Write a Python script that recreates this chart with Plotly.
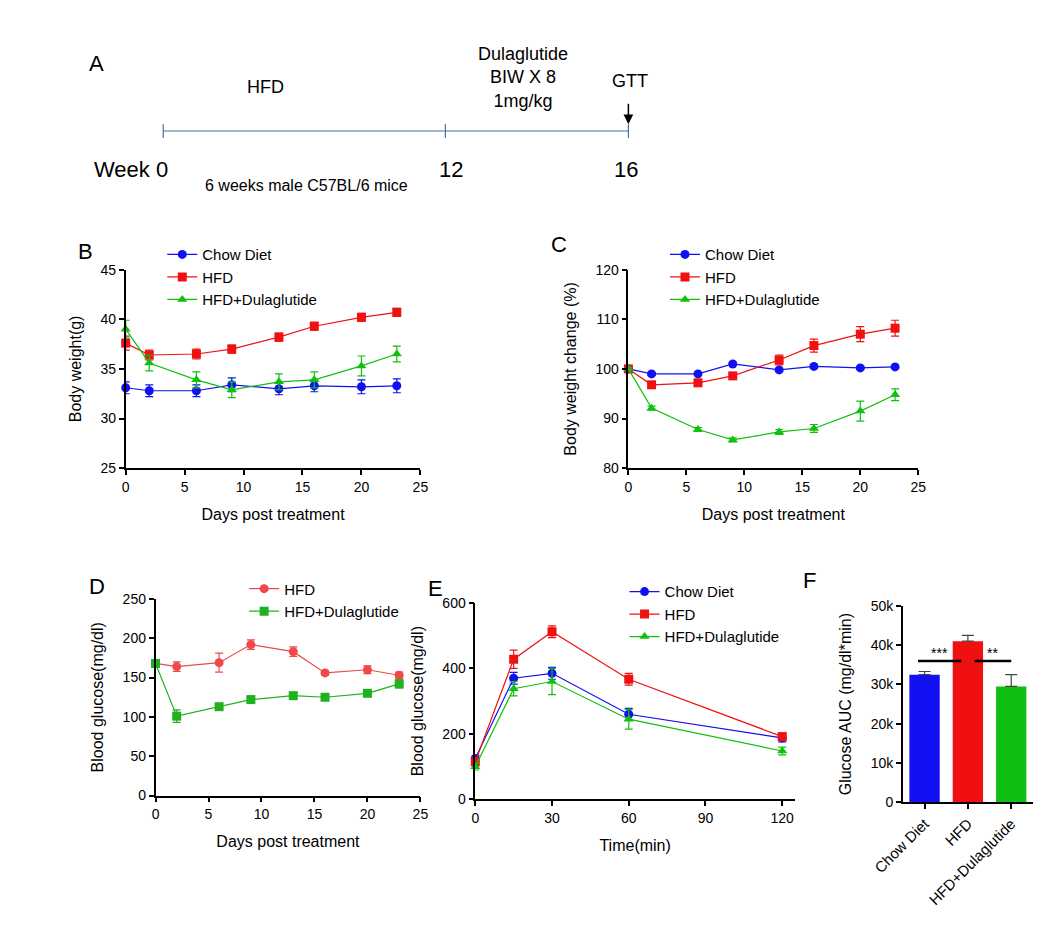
import plotly.graph_objects as go

W, H = 1056, 944
FONT = "Liberation Sans, Arial"

days = [0, 2, 6, 9, 13, 16, 20, 23]
# panel B body weight (g)
b_chow = [33.1, 32.8, 32.8, 33.4, 33.0, 33.3, 33.2, 33.3]
b_chow_err = [0.6, 0.6, 0.6, 0.7, 0.6, 0.6, 0.7, 0.7]
b_hfd = [37.6, 36.4, 36.5, 37.0, 38.2, 39.3, 40.2, 40.7]
b_hfd_err = [0.7, 0.5, 0.5, 0.4, 0.4, 0.4, 0.4, 0.4]
b_dula = [39.0, 35.6, 33.9, 32.9, 33.7, 33.9, 35.3, 36.5]
b_dula_err = [0.9, 0.8, 0.8, 0.8, 0.8, 0.8, 1.0, 0.8]
# panel C body weight change (%)
c_chow = [100, 99.0, 99.0, 101.0, 99.8, 100.5, 100.2, 100.4]
c_chow_err = [0.3, 0.3, 0.3, 0.3, 0.3, 0.3, 0.3, 0.3]
c_hfd = [100, 96.8, 97.2, 98.6, 101.8, 104.7, 107.0, 108.2]
c_hfd_err = [0.3, 0.4, 0.4, 0.6, 1.0, 1.3, 1.5, 1.6]
c_dula = [100, 92.1, 87.8, 85.7, 87.3, 88.0, 91.5, 94.8]
c_dula_err = [0.3, 0.4, 0.4, 0.4, 0.5, 0.8, 2.0, 1.2]
# panel D blood glucose (mg/dl)
d_hfd = [168, 164, 169, 192, 183, 156, 160, 153]
d_hfd_err = [4, 6, 12, 6, 6, 3, 5, 4]
d_dula = [168, 101, 113, 122, 127, 125, 130, 142]
d_dula_err = [4, 8, 4, 4, 4, 4, 4, 5]
# panel E GTT
times = [0, 15, 30, 60, 120]
e_chow = [125, 370, 385, 260, 188]
e_chow_err = [10, 18, 18, 18, 12]
e_hfd = [115, 428, 512, 367, 192]
e_hfd_err = [10, 28, 18, 18, 8]
e_dula = [100, 338, 360, 245, 148]
e_dula_err = [10, 22, 40, 30, 12]
# panel F AUC
groups = ["Chow Diet", "HFD", "HFD+Dulaglutide"]
auc = [32500, 41000, 29500]
auc_err = [800, 1500, 3000]

BLUE, RED, GREEN = "#1010f0", "#f01010", "#10c010"

def px_x(x):
    return x / W

def px_y(y):
    return 1 - y / H

fig = go.Figure()

def series(x, y, err, name, color, symbol, ax, legend, show=True):
    fig.add_trace(go.Scatter(
        x=x, y=y, name=name, mode="lines+markers",
        line=dict(color=color, width=1.2),
        marker=dict(color=color, symbol=symbol, size=9),
        error_y=dict(type="data", array=err, color=color, thickness=1.2, width=4),
        xaxis="x" + ax, yaxis="y" + ax, legend=legend, showlegend=show,
        cliponaxis=False))

series(days, b_chow, b_chow_err, "Chow Diet", BLUE, "circle", "", "legend")
series(days, b_hfd, b_hfd_err, "HFD", RED, "square", "", "legend")
series(days, b_dula, b_dula_err, "HFD+Dulaglutide", GREEN, "triangle-up", "", "legend")
series(days, c_chow, c_chow_err, "Chow Diet", BLUE, "circle", "2", "legend2")
series(days, c_hfd, c_hfd_err, "HFD", RED, "square", "2", "legend2")
series(days, c_dula, c_dula_err, "HFD+Dulaglutide", GREEN, "triangle-up", "2", "legend2")
series(days, d_hfd, d_hfd_err, "HFD", "#f04848", "circle", "3", "legend3")
series(days, d_dula, d_dula_err, "HFD+Dulaglutide", "#20b020", "square", "3", "legend3")
series(times, e_chow, e_chow_err, "Chow Diet", BLUE, "circle", "4", "legend4")
series(times, e_hfd, e_hfd_err, "HFD", RED, "square", "4", "legend4")
series(times, e_dula, e_dula_err, "HFD+Dulaglutide", GREEN, "triangle-up", "4", "legend4")

fig.add_trace(go.Bar(
    x=groups, y=auc, marker=dict(color=[BLUE, RED, "#10c010"], line=dict(width=0)),
    width=0.7, error_y=dict(type="data", array=auc_err, symmetric=False,
                            arrayminus=[0, 0, 0], color="#444", width=6, thickness=1.2),
    xaxis="x5", yaxis="y5", showlegend=False))

def axis_style(**kw):
    d = dict(showline=True, linecolor="black", linewidth=1.5, ticks="outside",
             ticklen=5, tickwidth=1.5, tickcolor="black", showgrid=False,
             zeroline=False, tickfont=dict(size=14, color="black"),
             title_font=dict(size=16, color="black"))
    d.update(kw)
    return d

panels = {
    "": (90, 396, 258, 460),
    "2": (612, 913, 258, 460),
    "3": (121, 396, 593, 793),
    "4": (453, 785, 597, 797),
    "5": (897, 1032, 600, 800),
}
layout = {}
specs = {
    "": (dict(range=[0, 25], dtick=5, title_text="Days post treatment"),
         dict(range=[25, 45], dtick=5, title_text="Body weight(g)")),
    "2": (dict(range=[0, 25], dtick=5, title_text="Days post treatment"),
          dict(range=[80, 120], dtick=10, title_text="Body weight change (%)")),
    "3": (dict(range=[0, 25], dtick=5, title_text="Days post treatment"),
          dict(range=[0, 250], dtick=50, title_text="Blood glucose(mg/dl)")),
    "4": (dict(range=[0, 125], tickvals=[0, 30, 60, 90, 120], title_text="Time(min)"),
          dict(range=[0, 600], dtick=200, title_text="Blood glucose(mg/dl)")),
    "5": (dict(tickangle=-45, tickfont=dict(size=15, color="black")),
          dict(range=[0, 50000], dtick=10000, title_text="Glucose AUC (mg/dl*min)")),
}
for k, (x0, x1, y0, y1) in panels.items():
    xs, ys = specs[k]
    layout["xaxis" + k] = axis_style(domain=[px_x(x0), px_x(x1)], anchor="y" + k, **xs)
    layout["yaxis" + k] = axis_style(domain=[px_y(y1), px_y(y0)], anchor="x" + k, **ys)

def leg(x, y):
    return dict(x=px_x(x), y=px_y(y), xanchor="left", yanchor="top",
                bgcolor="rgba(0,0,0,0)", font=dict(size=15, color="black"),
                tracegroupgap=4, itemwidth=30)

layout["legend"] = leg(128, 226)
layout["legend2"] = leg(650, 226)
layout["legend3"] = leg(213, 566)
layout["legend4"] = leg(608, 569)

fig.update_layout(**layout)

# significance bars in F
for xa, xb, yv, txt in [(-0.15, 0.85, 36000, "***"), (1.15, 2.0, 36000, "**")]:
    fig.add_shape(type="line", x0=xa, x1=xb, y0=yv, y1=yv, xref="x5", yref="y5",
                  line=dict(color="black", width=2.5))
    fig.add_annotation(x=(xa + xb) / 2, y=yv, text=txt, xref="x5", yref="y5",
                       showarrow=False, yanchor="bottom", yshift=-2,
                       font=dict(size=14, color="black"))

# panel A timeline
tl_y = 117
fig.add_shape(type="line", xref="paper", yref="paper", x0=px_x(129), x1=px_x(612),
              y0=px_y(tl_y), y1=px_y(tl_y), line=dict(color="#4a6fa5", width=1.2))
for tx in [129, 422, 612]:
    fig.add_shape(type="line", xref="paper", yref="paper", x0=px_x(tx), x1=px_x(tx),
                  y0=px_y(tl_y - 7), y1=px_y(tl_y + 7), line=dict(color="#4a6fa5", width=1.2))
fig.add_annotation(xref="paper", yref="paper", x=px_x(612), y=px_y(110),
                   ax=0, ay=-22, showarrow=True, arrowhead=2, arrowsize=1.3,
                   arrowwidth=1.5, arrowcolor="black", text="")

texts = [
    ("A", 60, 48, 22), ("HFD", 235, 72, 18),
    ("Dulaglutide<br>BIW X 8<br>1mg/kg", 503, 63, 18),
    ("GTT", 614, 66, 18), ("Week 0", 96, 156, 22), ("12", 428, 156, 22),
    ("16", 609, 156, 22), ("6 weeks male C57BL/6 mice", 278, 172, 16),
    ("B", 48, 240, 22), ("C", 540, 232, 22), ("D", 60, 580, 22),
    ("E", 412, 582, 22), ("F", 800, 574, 22),
]
for t, x, y, s in texts:
    fig.add_annotation(xref="paper", yref="paper", x=px_x(x), y=px_y(y), text=t,
                       showarrow=False, font=dict(size=s, color="black"),
                       xanchor="center", yanchor="middle")

fig.update_layout(width=W, height=H, margin=dict(l=0, r=0, t=0, b=0),
                  paper_bgcolor="white", plot_bgcolor="white",
                  font=dict(family=FONT, color="black"))

fig.write_html("out.html")
